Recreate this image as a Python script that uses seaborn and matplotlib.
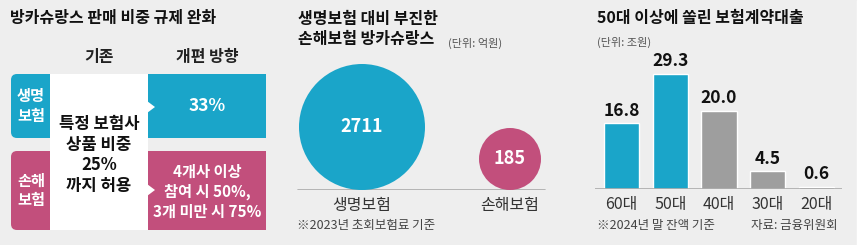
import numpy as np
import pandas as pd
import matplotlib
matplotlib.use("Agg")
import matplotlib.pyplot as plt
from matplotlib.patches import FancyBboxPatch, Rectangle, Polygon
import seaborn as sns

# ---------------- data ----------------
panel1_title = "방카슈랑스 판매 비중 규제 완화"
panel1_headers = ["기존", "개편 방향"]
insurer_types = ["생명\n보험", "손해\n보험"]
current_rule = "특정 보험사\n상품 비중\n25%\n까지 허용"
new_rules = ["33%", "4개사 이상\n참여 시 50%,\n3개 미만 시 75%"]

panel2_title = "생명보험 대비 부진한\n손해보험 방카슈랑스"
panel2_unit = "(단위: 억원)"
bubble_cats = ["생명보험", "손해보험"]
bubble_vals = [2711, 185]
panel2_note = "※2023년 초회보험료 기준"

panel3_title = "50대 이상에 쏠린 보험계약대출"
panel3_unit = "(단위: 조원)"
age_groups = ["60대", "50대", "40대", "30대", "20대"]
loan_vals = [16.8, 29.3, 20.0, 4.5, 0.6]
panel3_note = "※2024년 말 잔액 기준"
panel3_source = "자료: 금융위원회"

# ---------------- style ----------------
BLUE = "#1aa5c9"
PINK = "#c24f7c"
GRAY = "#9e9e9e"
BG = "#eeeeee"
W, H = 860, 245

sns.set_theme(style="white")
plt.rcParams["font.family"] = ["Noto Sans CJK KR", "DejaVu Sans"]

fig = plt.figure(figsize=(W / 100, H / 100), dpi=100)
fig.patch.set_facecolor(BG)

# background / drawing axes in pixel coordinates
bg = fig.add_axes([0, 0, 1, 1])
bg.set_xlim(0, W)
bg.set_ylim(H, 0)
bg.axis("off")
bg.add_patch(Rectangle((857, 0), 3, H, color="white", zorder=0))

def txt(x, y, s, **kw):
    kw.setdefault("color", "#111111")
    bg.text(x, y, s, **kw)

# ---------------- panel 1 ----------------
txt(10, 18, panel1_title, fontsize=11.5, fontweight="bold", va="center", ha="left")
txt(99, 57, panel1_headers[0], fontsize=11.5, fontweight="bold", va="center", ha="center", color="#222")
txt(207, 57, panel1_headers[1], fontsize=11.5, fontweight="bold", va="center", ha="center", color="#222")

rows = [(74, 138, BLUE), (151, 230, PINK)]
rule_sizes = [12.5, 11]
for (y0, y1, col), lab, rule, fs in zip(rows, insurer_types, new_rules, rule_sizes):
    bg.add_patch(FancyBboxPatch((11, y0), 45, y1 - y0,
                                boxstyle="round,pad=0,rounding_size=6",
                                fc=col, ec="none", zorder=1))
    bg.add_patch(Rectangle((148, y0), 118, y1 - y0, fc=col, ec="none", zorder=1))
    txt(31, (y0 + y1) / 2, lab, fontsize=11, fontweight="bold", color="white",
        ha="center", va="center", linespacing=1.3, zorder=3)
    txt(207, (y0 + y1) / 2 + (0 if "\n" not in rule else 1), rule, fontsize=fs,
        fontweight="bold", color="white", ha="center", va="center",
        linespacing=1.3, zorder=3)

bg.add_patch(Rectangle((50, 74), 98, 156, fc="white", ec="none", zorder=2))
for yc in (107, 190):
    bg.add_patch(Polygon([[147, yc - 6], [155, yc], [147, yc + 6]],
                         closed=True, fc="white", ec="none", zorder=2))
txt(99, 155, current_rule, fontsize=12, fontweight="bold", ha="center", va="center",
    linespacing=1.2, zorder=3)

# ---------------- panel 2 ----------------
txt(298, 29, panel2_title, fontsize=11.5, fontweight="bold", va="center", ha="left",
    linespacing=1.3)
txt(448, 43, panel2_unit, fontsize=8, color="#555555", va="center", ha="left")
txt(297, 225, panel2_note, fontsize=9, color="#444444", va="center", ha="left")

ax2 = fig.add_axes([290 / W, 1 - 190 / H, 280 / W, 135 / H])
ax2.patch.set_alpha(0)
px_per_unit = 148
radius_px = np.interp(bubble_vals, (min(bubble_vals), max(bubble_vals)), (31, 63))
df2 = pd.DataFrame({"cat": bubble_cats, "val": bubble_vals, "r": radius_px})
sizes = {c: (2 * r * 0.72) ** 2 for c, r in zip(bubble_cats, radius_px)}
sns.scatterplot(data=df2, x="cat", y="r", hue="cat", size="cat", sizes=sizes,
                palette=[BLUE, PINK], legend=False, linewidth=0, ax=ax2,
                clip_on=False, zorder=2)
for i, (v, r) in enumerate(zip(bubble_vals, radius_px)):
    ax2.text(i, r, f"{v}", color="white", fontsize=13, fontweight="bold",
             ha="center", va="center", zorder=3)
ax2.set_xlim(-72 / px_per_unit, 208 / px_per_unit)
ax2.set_ylim(0, 135)
ax2.axhline(0, xmin=8 / 280, xmax=255 / 280, color="#aaaaaa", lw=1.2, zorder=1)
for s in ax2.spines.values():
    s.set_visible(False)
ax2.set_yticks([])
ax2.set_xlabel("")
ax2.set_ylabel("")
ax2.tick_params(axis="x", length=0, pad=5, labelsize=11.5, labelcolor="#333333")

# ---------------- panel 3 ----------------
txt(597, 18, panel3_title, fontsize=11.5, fontweight="bold", va="center", ha="left")
txt(597, 42, panel3_unit, fontsize=8, color="#555555", va="center", ha="left")
txt(597, 225, panel3_note, fontsize=9, color="#444444", va="center", ha="left")
txt(838, 225, panel3_source, fontsize=9, color="#444444", va="center", ha="right")

ax3 = fig.add_axes([594.7 / W, 1 - 189 / H, 247.2 / W, 129.5 / H])
ax3.patch.set_alpha(0)
df3 = pd.DataFrame({"age": age_groups, "val": loan_vals})
bar_colors = [BLUE, BLUE, GRAY, GRAY, GRAY]
sns.barplot(data=df3, x="age", y="val", hue="age", palette=bar_colors,
            legend=False, width=0.72, ax=ax3, saturation=1, zorder=2)
ax3.set_xlim(-0.55, 4.52)
ax3.set_ylim(0, 33)
for i, v in enumerate(loan_vals):
    ax3.text(i, v + 0.9, f"{v:.1f}", ha="center", va="bottom", fontsize=12.5,
             fontweight="bold", color="#111111")
ax3.axhline(0, color="#aaaaaa", lw=1.2, zorder=3)
for s in ax3.spines.values():
    s.set_visible(False)
ax3.set_yticks([])
ax3.set_xlabel("")
ax3.set_ylabel("")
ax3.tick_params(axis="x", length=0, pad=5, labelsize=11.5, labelcolor="#333333")

fig.savefig("out.png", dpi=100, facecolor=fig.get_facecolor())
